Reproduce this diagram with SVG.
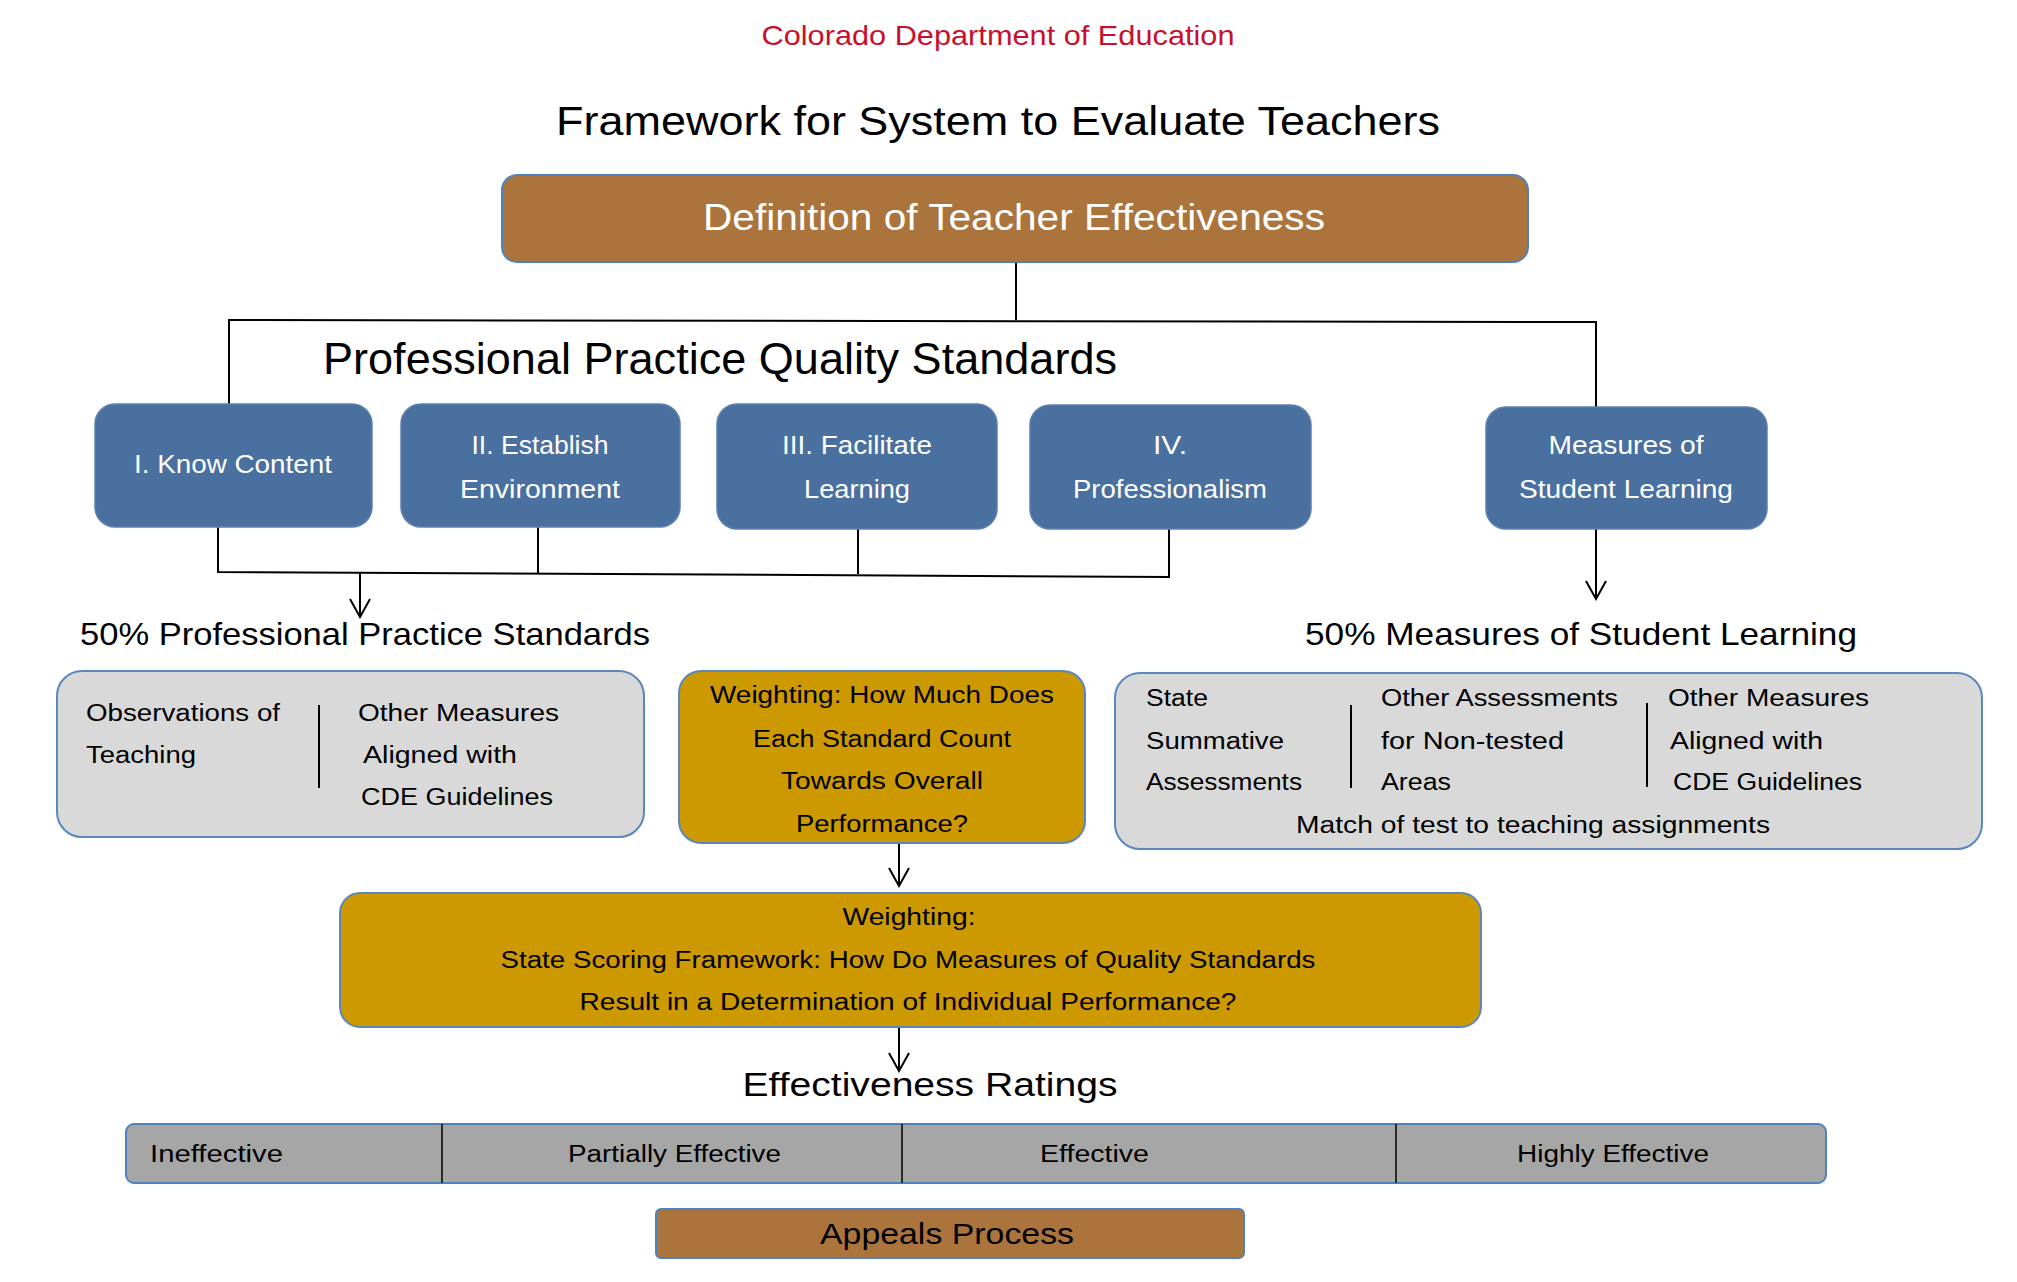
<svg xmlns="http://www.w3.org/2000/svg" width="2017" height="1282" viewBox="0 0 2017 1282">
<defs>
<style>
text{font-family:"Liberation Sans",Arial,sans-serif;}
.brown{fill:#AB743D;stroke:#4F81BD;stroke-width:2;}
.blue{fill:#4A70A0;stroke:#5B80B0;stroke-width:1.5;}
.gray{fill:#D9D9D9;stroke:#5B87BD;stroke-width:2;}
.gold{fill:#CC9900;stroke:#5B87BD;stroke-width:2;}
.rate{fill:#A6A6A6;stroke:#4F81BD;stroke-width:2;}
.wt{fill:#FFFFFF;font-size:25px;text-anchor:middle;}
.sm{fill:#000;font-size:23px;}
.smc{fill:#000;font-size:23px;text-anchor:middle;}
.div{stroke:#000;stroke-width:2;}
.conn{fill:none;stroke:#000;stroke-width:2;}
</style>
<marker id="arr" viewBox="-20 -12 22 24" refX="0" refY="0" markerWidth="22" markerHeight="24" markerUnits="userSpaceOnUse" orient="auto">
<path d="M-18,-10 L0,0 L-18,10" fill="none" stroke="#000" stroke-width="2"/>
</marker>
</defs>
<rect width="2017" height="1282" fill="#FFFFFF"/>

<g id="header">
<text x="998" y="45" fill="#C8102E" font-size="28" text-anchor="middle" textLength="473" lengthAdjust="spacingAndGlyphs">Colorado Department of Education</text>
<text x="998" y="135" fill="#000" font-size="40" text-anchor="middle" textLength="884" lengthAdjust="spacingAndGlyphs">Framework for System to Evaluate Teachers</text>
</g>

<g id="connectors">
<path class="conn" d="M1016,262 V320"/>
<path class="conn" d="M229,405 V320 L1596,322 V408"/>
<path class="conn" d="M218,527 V572 L1169,577 V529"/>
<path class="conn" d="M538,527 V573"/>
<path class="conn" d="M858,529 V574"/>
<path class="conn" d="M360,573 V617" marker-end="url(#arr)"/>
<path class="conn" d="M1596,529 V599" marker-end="url(#arr)"/>
<path class="conn" d="M899,843 V886" marker-end="url(#arr)"/>
<path class="conn" d="M899,1027 V1071" marker-end="url(#arr)"/>
</g>

<g id="definition">
<rect class="brown" x="502" y="175" width="1026" height="87" rx="15"/>
<text x="1014" y="230" fill="#FFFFFF" font-size="36" text-anchor="middle" textLength="622" lengthAdjust="spacingAndGlyphs">Definition of Teacher Effectiveness</text>
</g>

<g id="ppqs-label">
<text x="323" y="374" fill="#000" font-size="45" textLength="794" lengthAdjust="spacingAndGlyphs">Professional Practice Quality Standards</text>
</g>

<g id="std1">
<rect class="blue" x="95" y="404" width="277" height="123" rx="20"/>
<text class="wt" x="233" y="473" textLength="198" lengthAdjust="spacingAndGlyphs">I. Know Content</text>
</g>
<g id="std2">
<rect class="blue" x="401" y="404" width="279" height="123" rx="20"/>
<text class="wt" x="540" y="454" textLength="137" lengthAdjust="spacingAndGlyphs">II. Establish</text>
<text class="wt" x="540" y="498" textLength="160" lengthAdjust="spacingAndGlyphs">Environment</text>
</g>
<g id="std3">
<rect class="blue" x="717" y="404" width="280" height="125" rx="20"/>
<text class="wt" x="857" y="454" textLength="150" lengthAdjust="spacingAndGlyphs">III. Facilitate</text>
<text class="wt" x="857" y="498" textLength="106" lengthAdjust="spacingAndGlyphs">Learning</text>
</g>
<g id="std4">
<rect class="blue" x="1030" y="405" width="281" height="124" rx="20"/>
<text class="wt" x="1170" y="454" textLength="34" lengthAdjust="spacingAndGlyphs">IV.</text>
<text class="wt" x="1170" y="498" textLength="194" lengthAdjust="spacingAndGlyphs">Professionalism</text>
</g>
<g id="msl">
<rect class="blue" x="1486" y="407" width="281" height="122" rx="20"/>
<text class="wt" x="1626" y="454" textLength="155" lengthAdjust="spacingAndGlyphs">Measures of</text>
<text class="wt" x="1626" y="498" textLength="214" lengthAdjust="spacingAndGlyphs">Student Learning</text>
</g>

<g id="pps-label">
<text x="80" y="645" fill="#000" font-size="32" textLength="570" lengthAdjust="spacingAndGlyphs">50% Professional Practice Standards</text>
</g>
<g id="msl-label">
<text x="1305" y="645" fill="#000" font-size="32" textLength="552" lengthAdjust="spacingAndGlyphs">50% Measures of Student Learning</text>
</g>

<g id="pp-measures">
<rect class="gray" x="57" y="671" width="587" height="166" rx="25"/>
<text class="sm" x="86" y="721" textLength="194" lengthAdjust="spacingAndGlyphs">Observations of</text>
<text class="sm" x="86" y="763" textLength="110" lengthAdjust="spacingAndGlyphs">Teaching</text>
<line class="div" x1="319" y1="705" x2="319" y2="788"/>
<text class="sm" x="358" y="721" textLength="201" lengthAdjust="spacingAndGlyphs">Other Measures</text>
<text class="sm" x="363" y="763" textLength="154" lengthAdjust="spacingAndGlyphs">Aligned with</text>
<text class="sm" x="361" y="805" textLength="192" lengthAdjust="spacingAndGlyphs">CDE Guidelines</text>
</g>

<g id="weighting1">
<rect class="gold" x="679" y="671" width="406" height="172" rx="22"/>
<text class="smc" x="882" y="703" textLength="344" lengthAdjust="spacingAndGlyphs">Weighting: How Much Does</text>
<text class="smc" x="882" y="747" textLength="258" lengthAdjust="spacingAndGlyphs">Each Standard Count</text>
<text class="smc" x="882" y="789" textLength="202" lengthAdjust="spacingAndGlyphs">Towards Overall</text>
<text class="smc" x="882" y="832" textLength="172" lengthAdjust="spacingAndGlyphs">Performance?</text>
</g>

<g id="sl-measures">
<rect class="gray" x="1115" y="673" width="867" height="176" rx="25"/>
<text class="sm" x="1146" y="706" textLength="62" lengthAdjust="spacingAndGlyphs">State</text>
<text class="sm" x="1146" y="749" textLength="138" lengthAdjust="spacingAndGlyphs">Summative</text>
<text class="sm" x="1146" y="790" textLength="156" lengthAdjust="spacingAndGlyphs">Assessments</text>
<line class="div" x1="1351" y1="705" x2="1351" y2="788"/>
<text class="sm" x="1381" y="706" textLength="237" lengthAdjust="spacingAndGlyphs">Other Assessments</text>
<text class="sm" x="1381" y="749" textLength="183" lengthAdjust="spacingAndGlyphs">for Non-tested</text>
<text class="sm" x="1381" y="790" textLength="70" lengthAdjust="spacingAndGlyphs">Areas</text>
<line class="div" x1="1647" y1="703" x2="1647" y2="787"/>
<text class="sm" x="1668" y="706" textLength="201" lengthAdjust="spacingAndGlyphs">Other Measures</text>
<text class="sm" x="1670" y="749" textLength="153" lengthAdjust="spacingAndGlyphs">Aligned with</text>
<text class="sm" x="1673" y="790" textLength="189" lengthAdjust="spacingAndGlyphs">CDE Guidelines</text>
<text class="sm" x="1296" y="833" textLength="474" lengthAdjust="spacingAndGlyphs">Match of test to teaching assignments</text>
</g>

<g id="weighting2">
<rect class="gold" x="340" y="893" width="1141" height="134" rx="20"/>
<text class="smc" x="909" y="925" textLength="133" lengthAdjust="spacingAndGlyphs">Weighting:</text>
<text class="smc" x="908" y="968" textLength="815" lengthAdjust="spacingAndGlyphs">State Scoring Framework: How Do Measures of Quality Standards</text>
<text class="smc" x="908" y="1010" textLength="657" lengthAdjust="spacingAndGlyphs">Result in a Determination of Individual Performance?</text>
</g>

<g id="ratings-label">
<text x="930" y="1096" fill="#000" font-size="34" text-anchor="middle" textLength="375" lengthAdjust="spacingAndGlyphs">Effectiveness Ratings</text>
</g>

<g id="ratings">
<rect class="rate" x="126" y="1124" width="1700" height="59" rx="8"/>
<line x1="442" y1="1124" x2="442" y2="1183" stroke="#000" stroke-width="1.5"/>
<line x1="902" y1="1124" x2="902" y2="1183" stroke="#000" stroke-width="1.5"/>
<line x1="1396" y1="1124" x2="1396" y2="1183" stroke="#000" stroke-width="1.5"/>
<text class="sm" x="150" y="1162" textLength="133" lengthAdjust="spacingAndGlyphs">Ineffective</text>
<text class="sm" x="568" y="1162" textLength="213" lengthAdjust="spacingAndGlyphs">Partially Effective</text>
<text class="sm" x="1040" y="1162" textLength="109" lengthAdjust="spacingAndGlyphs">Effective</text>
<text class="sm" x="1517" y="1162" textLength="192" lengthAdjust="spacingAndGlyphs">Highly Effective</text>
</g>

<g id="appeals">
<rect class="brown" x="656" y="1209" width="588" height="49" rx="5"/>
<text x="947" y="1244" fill="#000" font-size="30" text-anchor="middle" textLength="254" lengthAdjust="spacingAndGlyphs">Appeals Process</text>
</g>
</svg>
